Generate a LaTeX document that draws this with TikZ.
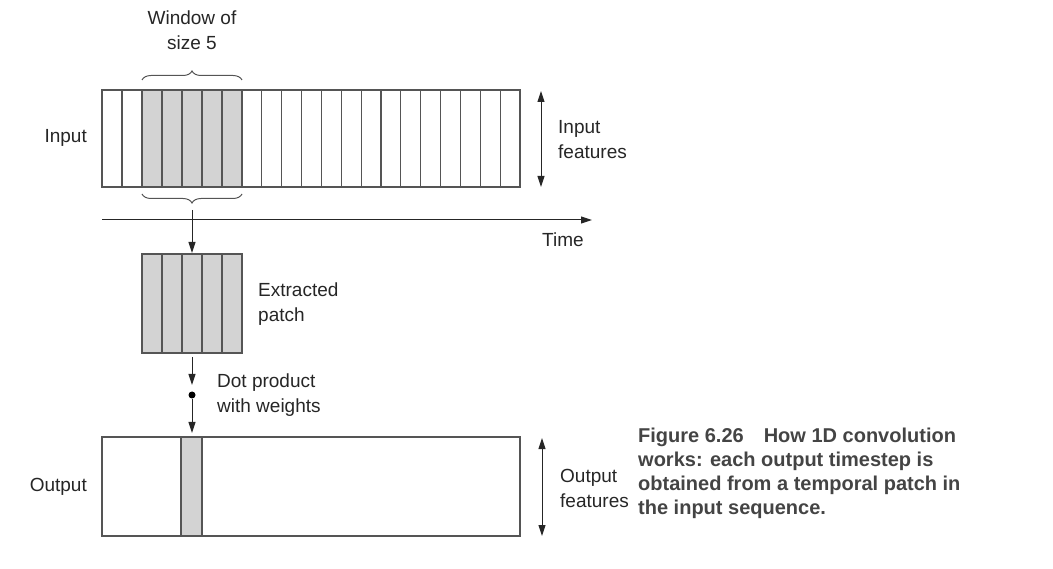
\documentclass[tikz,border=0pt]{standalone}
\usepackage{fontspec}
\setmainfont{Liberation Sans}
\usetikzlibrary{arrows.meta,decorations.pathreplacing}
\definecolor{cellgray}{HTML}{D3D3D3}
\definecolor{linegray}{HTML}{555555}
\definecolor{capgray}{HTML}{444444}
\begin{document}
\begin{tikzpicture}[x=1pt,y=-1pt,
  cell/.style={draw=linegray,line width=1.1pt},
  lbl/.style={font=\fontsize{19}{25}\selectfont,text=black!85,align=left,inner sep=0pt},
  arr/.style={-{Triangle[length=11pt,width=7pt]},line width=1pt,black!85},
  darr/.style={{Triangle[length=11pt,width=7pt]}-{Triangle[length=11pt,width=7pt]},line width=1pt,black!85},
  brace/.style={decorate,decoration={brace,amplitude=9pt},line width=1pt,linegray}]
\useasboundingbox (0,0) rectangle (1053,569);
% input strip: 21 cells
\fill[cellgray] (142,90) rectangle (242,187);
\foreach \i in {0,...,20}{
  \pgfmathsetmacro\xa{\i<7 ? 102+\i*20 : 242+(\i-7)*19.86}
  \pgfmathsetmacro\xb{\i<6 ? 122+\i*20 : 242+(\i-6)*19.86}
  \draw[cell] (\xa,90) rectangle (\xb,187);
}
\coordinate (wl) at (142,80); \coordinate (wr) at (242,80);
\draw[brace] (wl) -- (wr);
\node[lbl,align=center] (win) at (192,30) {Window of\\size 5};
\coordinate (bl) at (142,194); \coordinate (br) at (242,194);
\draw[brace] (br) -- (bl);
\node[lbl,anchor=east] (inp) at (87,138) {Input};
\coordinate (if1) at (541,91); \coordinate (if2) at (541,187);
\draw[darr] (if1) -- (if2);
\node[lbl,anchor=west] (inf) at (558,140) {Input\\features};
% time axis
\coordinate (t0) at (102,220); \coordinate (t1) at (592,220);
\draw[arr] (t0) -- (t1);
\node[lbl] (time) at (563,240) {Time};
% patch
\fill[cellgray] (142,254) rectangle (242,353);
\foreach \i in {0,...,4}{\draw[cell] (142+\i*20,254) rectangle (162+\i*20,353);}
\node[lbl,anchor=west] (ext) at (258,304) {Extracted\\patch};
\coordinate (bt) at (192,210); \coordinate (pt) at (192,253);
\draw[arr] (bt) -- (pt);
% dot product
\coordinate (p1) at (192,357); \coordinate (p2) at (192,385);
\draw[arr] (p1) -- (p2);
\node[circle,fill=black,inner sep=0pt,minimum size=7pt] (dot) at (192,395) {};
\coordinate (p4) at (192,433);
\draw[arr] (dot) -- (p4);
\node[lbl,anchor=west] (dp) at (217,395) {Dot product\\with weights};
% output
\draw[cell] (102,437) rectangle (520,536);
\fill[cellgray] (181,437) rectangle (202,536);
\draw[cell] (181,437) rectangle (202,536);
\node[lbl,anchor=east] (outp) at (87,487) {Output};
\coordinate (of1) at (542,438); \coordinate (of2) at (542,536);
\draw[darr] (of1) -- (of2);
\node[lbl,anchor=west] (outf) at (560,488) {Output\\features};
% caption
\node[anchor=north west,inner sep=0pt,align=left,text=capgray,
  font=\fontsize{20}{24}\selectfont\bfseries] (cap) at (638,428)
  {Figure 6.26\quad How 1D convolution\\works: each output timestep is\\obtained from a temporal patch in\\the input sequence.};
\end{tikzpicture}
\end{document}
